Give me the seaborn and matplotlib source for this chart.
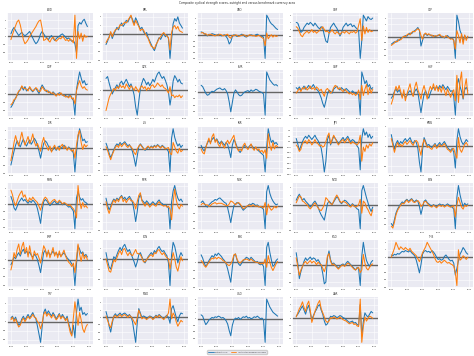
import numpy as np
import pandas as pd
import seaborn as sns
import matplotlib
matplotlib.use("Agg")
import matplotlib.pyplot as plt
import matplotlib.dates as mdates
from matplotlib.lines import Line2D

# ---------------- data (semi-annual readings, 2000 H1 .. 2024 H2) ----------------
CIDS = ["AUD", "BRL", "CAD", "CHF", "CLP", "COP", "CZK", "EUR", "GBP", "HUF",
        "IDR", "ILS", "INR", "JPY", "KRW", "MXN", "MYR", "NOK", "NZD", "PEN",
        "PHP", "PLN", "SEK", "SGD", "THB", "TRY", "TWD", "USD", "ZAR"]
SERIES_LABELS = ["outright score", "relative to benchmark currency"]
TITLE = "Composite cyclical strength scores, outright and versus benchmark currency area"

AUD_out = [0.3,0.8,1.1,0.7,0.4,0.1,0.3,0.5,0.2,0.1,0.2,0.4,0.6,0.2,-0.2,-0.6,-0.9,-0.7,-0.3,0.3,0.6,0.3,0.0,-0.2,-0.4,-0.1,0.1,-0.2,-0.5,-0.3,-0.1,0.0,0.2,0.3,0.1,-0.1,-0.3,-0.2,-0.4,-0.6,-0.5,-0.9,-2.0,1.3,1.7,1.5,1.9,2.1,1.6,1.2]
AUD_rel = [-0.4,0.2,0.8,1.3,1.8,2.0,1.4,0.5,-0.4,-0.9,-0.7,-0.4,0.0,0.3,0.6,0.9,1.2,1.6,1.9,2.0,1.0,-0.5,-0.4,-0.2,-0.5,-0.7,-0.3,-0.1,-0.4,-0.6,-0.4,-0.2,-0.3,0.0,-0.2,-0.5,-0.4,-0.6,-0.3,-0.5,-0.8,2.6,-2.7,0.6,-0.3,0.4,-0.6,0.2,-0.1,0.0]
BRL_out = [-1.2,-0.8,-0.3,0.2,-0.5,0.0,0.4,0.8,0.5,1.0,1.3,0.9,1.2,1.6,1.4,1.8,2.1,1.7,1.2,1.9,1.5,1.0,0.6,0.8,0.3,0.0,0.2,-0.4,-0.8,-1.2,-1.6,-1.9,-1.4,-0.8,-0.4,-0.6,-0.2,0.1,-0.3,-0.1,-0.5,-2.8,-0.6,1.2,1.8,1.5,2.0,1.3,1.0,0.7]
BRL_rel = [-1.0,-0.6,-0.4,0.3,-0.3,0.2,0.5,0.6,0.7,1.1,1.0,1.2,1.4,1.3,1.6,1.9,2.2,1.5,1.0,1.6,1.2,0.9,0.4,0.6,0.5,0.1,-0.2,-0.5,-1.0,-1.4,-1.5,-1.7,-1.2,-0.9,-0.5,-0.3,0.0,0.2,-0.1,-0.2,-0.4,-1.8,0.2,0.8,1.0,0.6,0.9,0.4,0.3,0.2]
CAD_out = [0.6,0.5,0.3,0.1,-0.1,0.2,0.1,0.3,0.2,0.1,0.0,0.2,0.1,-0.1,0.0,0.1,-0.2,-0.6,-1.5,-1.1,-0.2,0.1,0.0,-0.2,-0.1,0.0,0.2,0.1,-0.2,-0.3,-0.1,0.0,0.1,0.0,-0.1,0.1,0.2,0.0,-0.1,-0.2,-0.3,-4.0,3.5,3.0,2.4,2.0,1.8,1.5,1.2,1.0]
CAD_rel = [0.4,0.5,0.2,0.3,0.0,0.1,0.2,0.1,0.0,-0.1,0.1,0.0,0.2,0.1,-0.1,0.0,0.1,0.2,-0.3,-0.5,0.0,-0.1,0.1,0.0,-0.2,-0.1,0.0,0.1,0.0,-0.2,-0.1,0.1,0.0,-0.1,0.0,-0.2,-0.1,0.0,-0.2,-0.4,-0.6,-1.8,0.4,-0.6,-0.2,0.1,-0.3,0.0,-0.2,-0.1]
CHF_out = [1.0,0.9,0.3,-0.4,-0.2,0.3,0.6,0.9,0.7,1.0,0.8,0.5,0.9,0.6,0.3,0.1,0.4,0.2,-0.8,-1.6,-1.8,-0.6,0.3,0.6,0.9,0.5,0.2,-0.3,-0.9,-0.5,0.3,0.6,0.9,0.5,0.7,0.8,0.4,0.6,0.3,0.1,-0.2,-4.0,-1.5,2.0,1.6,1.2,1.8,1.5,1.4,1.6]
CHF_rel = [0.4,0.2,-0.3,-0.8,-1.0,-0.6,-0.4,-0.2,-0.5,-0.3,0.0,-0.4,-0.2,-0.5,-0.3,-0.1,0.2,0.4,0.0,-0.3,-0.2,-0.5,-0.3,0.0,-0.4,-0.6,-0.3,-0.5,-0.7,-0.4,-0.3,-0.5,-0.2,-0.4,-0.6,-0.3,-0.4,-0.2,-0.5,-0.3,0.6,1.5,-1.5,0.5,-0.6,0.3,-0.4,0.0,-0.3,-0.2]
CLP_out = [-1.2,-1.0,-0.8,-0.9,-0.5,-0.6,-0.3,-0.1,0.0,0.2,0.1,0.4,0.6,0.5,0.8,1.0,1.2,1.5,1.0,-1.5,-0.6,0.3,0.5,0.2,0.4,0.3,0.1,0.2,0.0,0.1,0.3,0.2,0.0,0.1,-0.2,0.0,0.2,-0.1,-0.3,-0.2,-0.5,-3.5,3.5,2.5,1.0,0.4,-0.8,0.2,-0.3,0.0]
CLP_rel = [-1.4,-1.2,-1.0,-0.7,-0.8,-0.4,-0.5,-0.2,0.1,0.0,0.3,0.5,0.3,0.7,0.9,0.8,1.1,1.3,1.1,0.2,-0.4,0.4,0.6,0.3,0.5,0.2,0.3,0.0,0.2,0.1,0.2,0.4,0.1,0.0,-0.1,0.2,0.0,-0.2,-0.4,-0.3,-0.6,-2.0,1.0,0.2,-1.0,0.5,-1.2,0.3,-0.6,0.1]
COP_out = [-1.6,-1.3,-0.9,-0.5,-0.2,0.2,0.5,0.8,0.4,0.8,0.3,0.5,0.7,0.4,0.2,0.5,0.6,0.3,0.0,0.6,1.0,0.7,0.4,0.2,0.3,0.1,-0.1,0.2,0.0,-0.2,-0.1,0.1,0.0,-0.1,-0.3,-0.2,-0.4,-0.3,-0.1,-0.5,-0.8,-2.5,0.5,1.5,2.5,1.8,1.2,1.5,1.0,1.1]
COP_rel = [-1.3,-1.1,-0.7,-0.6,-0.1,0.3,0.4,0.9,0.6,0.6,0.5,0.3,0.8,0.5,0.3,0.4,0.7,0.5,0.2,0.3,0.8,0.5,0.3,0.4,0.1,0.2,0.0,0.1,-0.1,-0.3,0.0,-0.2,0.1,-0.2,-0.2,-0.4,-0.3,-0.5,-0.2,-0.6,-0.5,-1.2,0.3,1.0,1.5,0.9,0.6,0.8,0.5,0.4]
CZK_out = [1.3,1.5,0.8,0.2,-0.4,0.0,0.3,0.6,0.2,0.8,1.0,0.6,0.9,1.2,0.8,0.4,0.7,0.2,-0.5,-1.8,-2.7,-1.2,0.2,0.8,1.3,1.0,0.6,0.9,0.5,0.8,1.2,0.9,1.4,1.8,2.0,1.6,1.3,1.5,1.1,0.6,-0.2,-1.6,-0.5,1.0,1.6,1.3,0.9,1.2,0.8,0.7]
CZK_rel = [-2.2,-1.5,-0.8,-0.4,-0.1,0.2,0.0,0.4,0.2,0.6,0.3,0.5,0.2,0.7,0.4,0.1,0.5,0.3,0.0,0.4,0.1,-0.2,0.3,0.5,0.2,0.4,0.0,0.3,0.1,0.5,0.6,0.3,0.5,0.8,0.6,0.4,0.6,0.3,0.2,0.0,-0.3,0.4,-0.6,-0.5,-0.8,-0.6,-0.7,-0.5,-0.8,-0.6]
EUR_out = [1.0,0.8,0.3,-0.2,-0.5,-0.4,-0.1,0.1,0.0,0.2,0.4,0.5,0.6,0.4,0.3,0.5,0.2,-0.3,-1.5,-3.0,-1.6,-0.2,0.3,0.0,-0.4,-0.6,-0.5,-0.2,0.0,0.1,0.2,0.0,0.3,0.1,0.2,0.4,0.3,0.1,0.0,-0.1,-0.3,-3.5,3.0,2.4,1.8,1.5,1.2,1.0,1.1,0.9]
EUR_rel = []
GBP_out = [0.5,0.3,0.6,0.2,0.4,0.7,0.3,0.5,0.8,0.4,0.6,0.9,0.5,0.3,0.1,-0.3,-0.8,-1.5,-2.0,-1.2,-0.3,0.2,0.0,-0.2,0.3,0.5,0.7,0.4,0.2,0.5,0.3,0.1,0.4,0.2,0.0,-0.2,0.1,-0.1,-0.3,-0.2,-0.4,-3.0,2.5,1.8,1.0,1.4,0.6,0.9,0.3,0.5]
GBP_rel = [-0.2,0.1,0.4,0.0,0.5,0.3,0.6,0.2,0.4,0.7,0.3,0.5,0.2,0.6,0.4,0.1,0.3,-0.2,-0.6,0.2,0.4,0.1,-0.2,0.0,0.5,0.8,0.6,0.3,0.5,0.2,0.0,0.3,0.1,-0.1,-0.3,-0.1,-0.4,-0.2,-0.5,-0.3,0.2,-1.0,0.8,-0.5,0.3,0.9,-0.4,0.5,-0.2,0.3]
HUF_out = [-0.5,-0.2,0.3,0.6,0.2,0.5,0.1,-0.3,0.0,-0.4,-0.2,0.2,0.4,0.1,-0.2,0.3,0.6,0.2,-1.0,-2.2,-1.0,0.0,0.4,-0.2,-0.5,0.1,0.6,0.8,0.5,0.9,0.6,1.0,0.7,1.1,0.8,0.5,0.9,0.6,0.3,0.4,-0.3,-2.5,1.0,1.8,0.9,0.3,-0.6,0.5,0.8,0.4]
HUF_rel = [-1.2,-0.6,0.2,0.9,0.4,1.0,0.3,-0.5,0.5,-0.8,0.0,0.6,1.2,0.2,-0.3,0.8,1.4,0.5,0.0,-0.6,0.4,1.0,0.2,-0.6,0.3,0.9,0.5,1.2,0.4,1.0,0.3,0.8,0.2,0.9,0.4,-0.2,0.6,0.1,-0.4,0.2,0.5,-0.8,2.2,-1.0,1.5,2.6,-0.5,0.8,1.8,0.0]
IDR_out = [-2.0,-1.2,-0.4,0.3,0.8,0.4,0.1,0.6,1.0,0.5,0.2,0.6,0.9,0.4,0.7,1.1,0.8,0.3,-0.4,-1.2,-0.3,0.5,0.8,0.6,0.2,-0.1,-0.4,-0.2,0.1,-0.3,0.0,0.2,-0.1,0.1,0.3,0.0,-0.2,0.1,-0.1,-0.3,-0.6,-2.8,-0.5,1.2,2.2,1.5,0.8,1.0,0.6,0.7]
IDR_rel = [-1.5,-0.5,0.6,1.4,0.7,0.2,1.0,1.8,0.9,0.3,0.8,1.3,0.5,0.9,1.6,0.7,0.2,0.5,0.0,-0.4,0.6,1.2,0.4,0.1,-0.3,0.2,-0.5,0.0,0.3,-0.2,0.1,-0.3,0.2,0.4,-0.1,0.2,-0.3,0.0,-0.2,-0.4,-0.2,-1.2,0.3,1.5,2.0,0.6,-0.2,0.4,0.1,0.3]
ILS_out = [0.8,0.2,-0.6,-1.2,-0.7,-0.1,0.4,0.7,0.5,0.9,0.6,0.8,1.0,0.7,0.4,0.6,0.2,-0.4,-1.3,-2.4,-1.0,0.3,0.7,0.4,0.1,-0.2,0.0,0.3,0.1,0.4,0.2,0.5,0.3,0.6,0.4,0.2,0.5,0.3,0.1,0.0,-0.4,-3.2,1.5,2.8,1.6,0.9,0.4,0.7,0.2,0.5]
ILS_rel = [0.3,-0.2,-0.9,-1.5,-0.8,-0.3,0.2,0.5,0.2,0.7,0.3,0.6,0.8,0.4,0.2,0.5,0.3,0.0,-0.5,-0.8,0.0,0.4,0.6,0.3,0.0,-0.1,0.2,0.4,0.1,0.3,0.1,0.4,0.2,0.5,0.3,0.1,0.4,0.2,0.0,0.1,0.2,-0.6,-0.8,0.9,0.3,-0.3,-0.6,0.1,-0.4,-0.2]
INR_out = [0.2,-0.3,-0.6,0.0,0.5,0.9,0.6,1.0,1.3,0.8,1.1,0.7,0.4,0.8,0.5,0.2,0.6,0.3,-0.5,-1.5,0.2,1.0,0.6,0.0,-0.5,-0.8,-0.4,-0.1,0.2,0.0,-0.2,0.1,0.3,0.0,-0.3,-0.1,-0.4,-0.6,-0.8,-1.0,-1.2,-3.5,0.0,2.5,1.4,0.6,0.9,0.4,0.6,0.3]
INR_rel = [-0.3,-0.8,-1.0,-0.2,0.6,1.2,0.4,1.4,1.8,0.6,1.0,0.3,0.0,0.7,0.2,-0.2,0.5,0.9,0.4,0.8,1.2,1.6,0.4,-0.2,-0.6,-0.3,-0.6,0.2,0.5,-0.1,-0.4,0.0,0.4,-0.2,-0.5,0.0,-0.5,-0.3,-0.7,-0.5,-0.9,-0.4,-1.6,1.8,0.2,-0.5,0.6,-0.3,0.2,0.0]
JPY_out = [0.3,-0.2,-0.8,-0.4,0.0,0.3,0.5,0.3,0.6,0.4,0.2,0.4,0.6,0.3,0.1,-0.2,-0.6,-1.5,-2.8,-1.8,0.2,0.6,-0.3,0.1,0.5,0.3,0.1,-0.2,0.0,0.2,0.4,0.1,0.3,0.5,0.2,0.0,0.2,0.1,-0.1,-0.4,-0.6,-2.6,0.3,1.2,0.6,0.9,0.4,0.7,0.3,0.5]
JPY_rel = [-0.3,-0.5,-0.9,-0.7,-0.2,0.0,0.1,-0.2,0.2,0.0,-0.3,-0.1,0.2,-0.1,-0.2,-0.4,-0.3,-0.5,-0.4,0.0,0.5,0.8,-0.2,0.2,0.6,0.3,0.0,-0.3,-0.1,0.1,0.2,-0.1,0.1,0.3,0.0,-0.2,0.0,-0.1,-0.2,-0.3,-0.1,0.6,-1.8,-0.5,-0.9,-0.3,-0.6,-0.2,-0.4,-0.1]
KRW_out = [1.2,0.4,-0.3,0.3,0.6,0.2,0.5,0.3,0.6,0.8,0.5,0.7,0.9,0.5,0.3,0.6,0.4,-0.2,-1.6,-2.6,-0.4,0.9,0.5,0.1,0.2,0.0,-0.1,0.1,0.3,0.0,0.2,0.4,0.1,0.3,0.5,0.2,-0.1,-0.3,-0.4,-0.2,-0.6,-2.2,0.6,1.8,1.0,0.5,0.2,0.4,0.7,0.5]
KRW_rel = [0.8,0.1,-0.6,0.0,0.4,0.0,0.2,0.0,0.3,0.5,0.2,0.4,0.6,0.3,0.1,0.5,0.6,0.4,-0.3,-0.9,0.2,0.7,0.3,-0.1,0.0,-0.2,-0.3,0.0,0.2,-0.2,0.0,0.2,0.0,0.1,0.3,0.0,-0.3,-0.4,-0.6,-0.3,-0.2,-0.8,-1.2,0.9,-0.3,-0.6,-0.2,0.2,0.4,0.1]
MXN_out = [1.0,0.4,-0.5,-0.8,-0.3,0.2,0.5,0.8,0.4,0.6,0.3,0.1,0.4,0.2,0.5,0.3,0.0,-0.6,-1.5,-2.5,-0.8,0.3,0.6,0.4,0.1,-0.2,0.0,0.2,0.4,0.1,0.0,0.3,0.2,-0.1,0.1,0.0,-0.2,-0.4,-0.3,-0.6,-0.9,-3.2,0.8,1.6,0.9,0.5,0.7,0.3,0.2,0.0]
MXN_rel = [1.8,1.2,0.3,-0.2,0.4,1.0,1.4,1.7,0.9,1.2,0.6,0.3,0.8,0.5,0.9,0.6,0.4,0.2,-0.3,-0.8,0.0,0.6,0.9,0.7,0.3,0.0,0.3,0.5,0.6,0.3,0.2,0.5,0.3,0.0,0.2,0.1,-0.1,-0.2,-0.1,-0.4,-0.6,-1.0,-1.8,2.4,0.4,-0.6,0.2,-0.4,-0.2,-0.5]
MYR_out = [0.6,-0.2,-0.7,-0.3,0.2,0.5,0.3,0.6,0.4,0.7,0.9,0.5,0.7,0.4,0.6,0.8,0.5,0.1,-0.8,-2.0,-0.9,0.6,1.0,0.4,0.2,0.0,0.3,0.1,-0.2,0.0,0.2,0.0,-0.1,0.2,0.4,0.1,0.0,-0.2,-0.1,-0.3,-0.5,-2.8,0.2,1.4,2.0,1.2,0.6,0.3,0.5,0.2]
MYR_rel = [0.2,-0.6,-1.1,-0.5,0.0,0.4,0.1,0.5,0.2,0.6,0.8,0.2,0.5,0.1,0.4,0.6,0.3,0.3,0.0,-0.6,0.2,0.9,1.2,0.3,0.0,-0.3,0.1,-0.1,-0.4,-0.2,0.0,-0.2,-0.3,0.0,0.2,-0.1,-0.2,-0.3,-0.2,-0.4,-0.3,-0.6,-1.8,0.2,1.6,0.4,-0.3,-0.6,-0.1,-0.3]
NOK_out = [0.4,0.6,0.3,0.0,-0.2,0.1,0.3,0.5,0.6,0.8,0.7,0.9,1.0,0.8,0.6,0.4,0.3,-0.3,-1.2,-2.2,-1.0,0.0,0.2,0.4,0.3,0.1,-0.3,-0.6,-0.4,-0.2,0.0,0.2,0.1,0.3,0.2,0.0,0.1,-0.1,-0.2,-0.3,-0.5,-3.0,1.8,2.6,1.6,1.0,0.6,0.3,0.1,0.2]
NOK_rel = [0.1,0.3,0.2,0.1,0.1,-0.1,0.0,0.2,0.3,0.4,0.2,0.3,0.3,0.3,0.2,0.1,0.0,0.0,0.2,0.6,0.5,0.3,0.1,0.3,0.4,0.2,-0.1,-0.4,-0.3,-0.1,0.0,0.1,-0.1,0.1,0.0,-0.1,0.0,-0.2,-0.1,-0.2,-0.3,0.4,-1.2,0.2,-0.3,-0.6,-0.4,-0.1,-0.3,-0.1]
NZD_out = [0.5,0.9,1.2,0.8,0.5,0.7,0.4,0.2,0.0,-0.3,-0.1,0.2,0.4,0.1,-0.3,-0.8,-1.2,-1.5,-1.8,-0.9,0.1,0.4,0.2,0.0,0.3,0.6,0.9,0.7,0.3,0.1,0.3,0.5,0.4,0.2,0.0,-0.2,0.1,-0.1,-0.3,-0.5,-0.6,-2.8,1.6,2.2,1.5,0.8,0.2,-0.4,-0.8,-0.3]
NZD_rel = [0.2,0.6,1.0,0.9,0.4,0.3,0.1,0.0,-0.3,-0.5,-0.3,0.0,0.2,-0.1,-0.4,-0.6,-0.7,-0.4,0.0,0.8,0.6,0.3,0.1,0.0,0.4,0.8,1.1,0.8,0.4,0.2,0.4,0.3,0.2,0.0,-0.2,-0.3,0.0,-0.2,-0.3,-0.2,0.0,0.6,-1.0,0.4,0.2,-0.3,-0.6,-1.0,-1.3,-0.6]
PEN_out = [-2.8,-3.2,-2.2,-1.2,-0.6,-0.2,0.2,0.5,0.3,0.7,0.9,0.6,0.8,1.0,0.7,0.5,0.8,0.6,-0.2,-1.4,-0.4,0.6,0.8,0.4,0.2,0.0,-0.2,0.1,-0.1,-0.3,0.0,0.2,0.0,0.1,-0.1,0.0,0.2,0.0,-0.2,-0.3,-0.6,-3.6,1.2,3.0,1.6,0.6,-0.2,0.3,0.0,0.2]
PEN_rel = [-3.2,-3.5,-2.6,-1.5,-0.8,-0.4,0.0,0.3,0.2,0.5,0.8,0.4,0.6,0.9,0.5,0.4,0.6,0.7,0.4,-0.2,0.0,0.5,0.6,0.3,0.0,-0.2,-0.3,0.0,-0.2,-0.4,-0.1,0.0,-0.2,0.0,-0.3,-0.1,0.0,-0.2,-0.3,-0.2,-0.1,-1.8,0.0,1.2,0.4,-0.3,-0.6,0.0,-0.2,0.0]
PHP_out = [-0.6,-0.2,0.3,0.1,0.5,0.8,0.4,0.9,1.2,0.7,1.0,0.6,0.9,0.5,0.3,0.6,0.4,0.0,-0.7,-1.5,-0.3,0.8,1.1,0.6,0.9,0.5,0.7,1.0,0.6,0.8,0.5,0.7,0.4,0.6,0.8,0.5,0.2,0.0,-0.2,-0.5,-0.8,-3.0,-0.5,1.6,1.2,0.7,0.9,0.4,0.6,0.3]
PHP_rel = [-1.2,-0.4,0.8,0.2,1.2,1.8,0.6,1.5,2.0,0.8,1.4,0.3,1.6,0.6,0.0,1.0,0.5,0.7,0.2,-0.4,0.6,1.6,1.2,0.3,1.1,0.2,0.8,1.4,0.4,0.9,0.2,1.0,0.3,0.7,1.1,0.4,0.0,-0.3,-0.5,-0.8,-0.4,-1.5,0.2,1.8,0.6,-0.2,0.8,0.1,0.5,0.0]
PLN_out = [0.6,-0.2,-0.8,-1.0,-0.4,0.2,0.0,0.4,0.8,1.1,0.8,1.2,1.4,1.0,0.7,0.9,0.5,0.1,-0.3,-0.8,-0.3,0.4,0.6,0.2,-0.2,-0.4,-0.1,0.2,0.4,0.6,0.4,0.8,0.6,1.0,1.2,0.9,0.7,0.8,0.5,0.3,-0.4,-2.6,0.4,1.6,1.2,0.5,-0.4,0.2,0.6,0.3]
PLN_rel = [0.0,-0.6,-1.2,-1.3,-0.7,-0.1,-0.3,0.1,0.5,0.8,0.4,0.9,1.0,0.6,0.3,0.6,0.4,0.3,0.6,0.9,0.5,0.5,0.4,0.1,-0.3,-0.3,-0.1,0.1,0.3,0.4,0.2,0.6,0.5,0.8,0.9,0.6,0.4,0.6,0.3,0.1,0.0,-1.0,-0.2,0.6,0.0,-0.8,-1.2,-0.5,0.2,-0.2]
SEK_out = [0.9,0.5,-0.1,-0.5,-0.2,0.2,0.5,0.8,0.6,1.0,0.8,1.1,0.9,0.7,0.4,0.2,-0.2,-0.8,-1.6,-2.4,-0.6,0.8,1.0,0.3,-0.2,-0.4,-0.1,0.2,0.4,0.6,0.5,0.3,0.6,0.4,0.2,0.0,0.1,-0.2,-0.3,-0.2,-0.5,-2.8,1.8,2.4,1.2,0.3,-0.5,-0.3,0.2,0.4]
SEK_rel = [0.2,0.0,-0.4,-0.6,-0.3,0.0,0.3,0.5,0.4,0.6,0.4,0.6,0.5,0.4,0.2,0.1,-0.1,-0.3,-0.4,-0.2,0.2,0.9,1.0,0.4,0.0,-0.1,0.1,0.3,0.3,0.4,0.3,0.2,0.4,0.2,0.1,0.0,0.0,-0.1,-0.2,-0.1,-0.2,0.4,-0.6,0.8,0.0,-0.6,-1.0,-0.6,-0.2,0.1]
SGD_out = [1.4,0.2,-1.6,-0.8,-0.2,0.4,0.8,0.5,0.7,0.9,0.6,0.8,0.7,0.4,0.6,0.3,-0.1,-1.0,-2.2,-2.0,0.8,1.6,0.6,0.1,0.2,0.0,-0.2,-0.4,-0.2,0.0,0.1,-0.1,0.2,0.4,0.2,0.0,-0.2,-0.4,-0.6,-0.3,-0.5,-2.4,1.0,2.6,1.4,0.5,0.1,-0.2,0.3,0.5]
SGD_rel = [0.8,-0.2,-1.2,-0.6,-0.2,0.2,0.4,0.1,0.3,0.5,0.2,0.4,0.3,0.0,0.3,0.1,0.0,-0.4,-0.8,-0.2,1.0,1.3,0.4,0.0,0.1,-0.1,-0.3,-0.5,-0.3,-0.1,0.0,-0.2,0.0,0.2,0.1,-0.1,-0.3,-0.5,-0.6,-0.4,-0.3,-0.9,-0.6,1.2,0.2,-0.4,-0.6,-0.3,0.0,0.1]
THB_out = [0.3,0.2,0.4,0.3,0.5,0.4,0.6,0.8,0.7,0.9,0.8,0.7,0.9,0.6,0.4,0.2,-0.4,-1.2,-2.1,-1.0,0.4,0.8,0.9,0.7,0.8,0.6,0.9,0.7,0.4,0.0,-0.3,-0.2,-0.4,-0.3,0.1,0.3,0.0,-0.3,-0.5,-0.4,-0.8,-2.4,-1.5,-0.5,0.4,0.8,1.3,1.0,0.6,0.4]
THB_rel = [0.0,0.6,1.2,2.0,1.5,1.0,1.4,1.2,1.0,1.3,1.1,0.9,1.2,0.8,0.6,0.4,0.2,-0.2,-0.6,0.0,0.6,1.0,1.4,2.0,1.6,1.2,0.8,0.4,-0.2,-0.6,-0.7,-0.5,-0.8,-0.6,-0.4,-0.6,-0.8,-0.7,-0.9,-1.0,-1.2,-2.0,-3.8,1.0,-0.4,-0.2,0.2,0.0,-0.3,0.0]
TRY_out = [0.4,0.6,0.2,0.5,0.0,-0.4,-0.2,0.3,0.6,0.2,0.5,0.8,0.4,0.7,1.0,0.6,0.3,-0.5,-1.4,-2.3,-0.6,1.0,1.4,0.8,1.2,0.9,0.6,1.0,0.7,0.3,0.6,0.9,0.4,0.8,0.5,0.2,0.6,-0.2,-0.8,-1.5,-0.4,-1.8,1.0,2.5,1.2,1.6,0.8,1.0,0.7,0.9]
TRY_rel = [0.2,0.5,0.0,0.3,-0.2,-0.6,-0.4,0.1,0.4,0.0,0.3,0.6,0.3,0.5,0.8,0.5,0.4,0.0,-0.2,-0.8,-0.2,0.8,1.1,0.6,0.9,0.7,0.4,0.8,0.5,0.2,0.4,0.8,0.3,0.6,0.4,0.1,0.4,-0.4,-1.2,-1.6,0.4,2.2,0.8,-0.4,1.0,0.2,-0.8,-1.2,-0.6,-0.3]
TWD_out = [0.8,0.0,-1.2,-2.0,-0.8,0.2,0.5,0.2,0.4,0.6,0.3,0.5,0.6,0.4,0.2,0.4,0.1,-0.6,-2.0,-3.4,-0.8,1.2,0.6,0.0,0.2,0.1,-0.2,0.0,0.2,0.1,-0.2,0.0,0.3,0.1,0.4,0.2,0.0,-0.2,0.1,0.3,0.0,-0.8,1.2,1.6,0.8,0.0,-0.6,0.2,0.6,0.5]
TWD_rel = [0.2,-0.4,-1.0,-1.4,-0.5,0.1,0.3,0.0,0.2,0.4,0.1,0.3,0.4,0.2,0.0,0.3,0.1,-0.2,-0.6,-1.0,0.0,1.0,0.4,-0.2,0.0,-0.1,-0.3,-0.1,0.1,0.0,-0.3,-0.1,0.2,0.0,0.3,0.1,-0.1,-0.3,0.0,0.2,0.6,2.5,-0.2,0.6,0.2,-0.6,-1.2,-0.8,-0.4,-0.6]
USD_out = [0.6,0.4,-0.3,-0.9,-0.6,-0.2,0.0,0.2,0.1,0.3,0.2,0.4,0.3,0.1,0.2,0.0,-0.3,-0.8,-1.8,-2.6,-1.0,-0.2,0.1,0.0,0.2,-0.1,0.1,0.3,0.2,0.4,0.1,0.2,0.0,0.1,0.3,0.2,0.4,0.2,0.0,0.1,-0.2,-3.6,3.0,2.4,1.8,1.4,1.0,0.8,0.6,0.4]
USD_rel = []
ZAR_out = [0.3,0.6,1.0,1.4,1.8,1.2,0.6,1.4,1.9,0.8,-0.2,0.4,0.9,1.3,1.8,2.0,1.2,0.6,-0.4,-1.0,-0.8,-0.2,0.3,0.2,0.4,0.3,0.1,0.2,0.4,0.3,0.1,0.0,-0.2,-0.4,-0.6,-0.5,-0.4,-0.7,-0.6,-0.9,-1.0,2.0,-2.6,-0.5,0.8,0.4,0.2,0.6,1.0,0.8]
ZAR_rel = [0.2,0.8,1.4,1.8,2.4,1.6,1.0,2.0,2.5,1.2,-0.6,0.2,1.0,1.6,2.2,2.6,1.4,0.8,0.2,-0.4,-0.6,-0.4,0.1,0.0,0.2,0.1,-0.1,0.0,0.2,0.0,-0.2,-0.3,-0.4,-0.6,-0.8,-0.7,-0.6,-0.9,-0.8,-1.1,-1.2,2.8,-3.5,-1.2,0.2,-0.4,0.0,0.3,0.2,0.0]

# ---------------- tidy frame ----------------
g = globals()
rows = []
for cid in CIDS:
    for lab, suffix in zip(SERIES_LABELS, ["_out", "_rel"]):
        vals = g[cid + suffix]
        if len(vals) == 0:
            continue
        dates = pd.date_range("2000-01-01", periods=len(vals), freq="6MS")
        rows.append(pd.DataFrame({"cid": cid, "date": dates, "value": vals, "series": lab}))
df = pd.concat(rows, ignore_index=True)

# ---------------- style ----------------
DPI = 100
W, H = 474, 356
sns.set_theme(style="darkgrid", rc={
    "axes.facecolor": "#EAEAF2",
    "grid.color": "white",
    "grid.linewidth": 0.4,
    "xtick.major.pad": 0.8,
    "ytick.major.pad": 0.8,
})
plt.rcParams["font.family"] = ["DejaVu Sans"]

palette = {SERIES_LABELS[0]: "#1f77b4", SERIES_LABELS[1]: "#ff7f0e"}

fg = sns.FacetGrid(df, col="cid", col_wrap=5, col_order=CIDS,
                   sharex=False, sharey=False, height=1.0, aspect=1.8)
fg.map_dataframe(sns.lineplot, x="date", y="value", hue="series",
                 hue_order=SERIES_LABELS, palette=palette,
                 linewidth=0.75, legend=False)
fg.set_titles("{col_name}", size=1.9, pad=1.5)
fg.set_axis_labels("", "")

for ax in fg.axes.flat:
    ax.axhline(0, color=".4", linewidth=1.0, zorder=1)
    ax.set_xlim(pd.Timestamp("1998-10-01"), pd.Timestamp("2026-03-01"))
    ax.xaxis.set_major_locator(mdates.YearLocator(5))
    ax.xaxis.set_major_formatter(mdates.DateFormatter("%Y"))
    ax.tick_params(axis="both", labelsize=1.35, length=0, pad=0.8,
                   labelbottom=True, labelleft=True)
    ax.title.set_color("#333333")

fig = fg.figure
fig.set_size_inches(W / DPI, H / DPI)
fig.suptitle(TITLE, fontsize=2.1, y=1 - 2.6 / H, va="center")

handles = [Line2D([0], [0], color=palette[l], lw=0.6) for l in SERIES_LABELS]
fig.legend(handles, SERIES_LABELS, loc="center", bbox_to_anchor=(0.5, 4.0 / H),
           ncol=2, fontsize=1.3, frameon=True, handlelength=3, borderpad=0.5,
           columnspacing=2.0, edgecolor="#cccccc", framealpha=1.0)

fig.subplots_adjust(left=7 / W, right=473 / W, top=1 - 13 / H, bottom=1 - 344.5 / H,
                    wspace=0.111, hspace=0.194)
fig.savefig("out.png", dpi=DPI)
